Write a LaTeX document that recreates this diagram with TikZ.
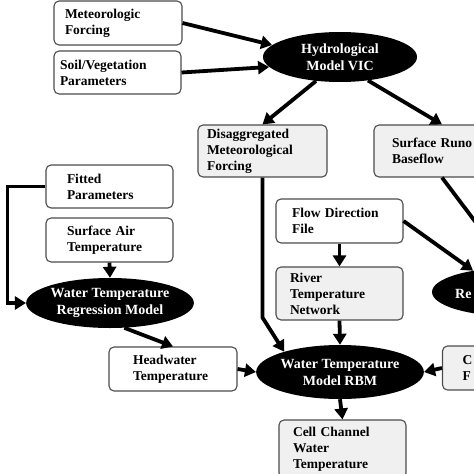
\documentclass[tikz,border=0pt]{standalone}
\usepackage{fontspec}
\setmainfont{Liberation Serif}
\usepackage{tikz}
\usetikzlibrary{shapes.geometric,arrows.meta}

\tikzset{
    inbox/.style={draw=black!70, line width=1.1pt, rounded corners=5pt, fill=white,
        font=\fontsize{13.5}{16}\selectfont\bfseries, align=left, inner ysep=2pt},
    outbox/.style={inbox, fill=black!6},
    model/.style={ellipse, fill=black, text=white, inner sep=0pt,
        font=\fontsize{14}{17}\selectfont\bfseries, align=center},
    flow/.style={line width=3.8pt, -{Triangle[length=11pt,width=13pt]}}
}

\begin{document}
\begin{tikzpicture}[x=1pt,y=-1pt]
    \useasboundingbox (0,0) rectangle (474,474);
    \clip (0,0) rectangle (474,474);

    % Input boxes
    \node[inbox, minimum width=128, minimum height=44, text width=106, inner xsep=11] (metforce) at (118,23) {Meteorologic\\Forcing};
    \node[inbox, minimum width=127, minimum height=43, text width=115, inner xsep=6] (soilveg) at (117.5,72.5) {Soil/Vegetation\\Parameters};
    \node[inbox, minimum width=127, minimum height=43, text width=85, inner xsep=21] (fitted) at (109.5,186.5) {Fitted\\Parameters};
    \node[inbox, minimum width=127, minimum height=44, text width=85, inner xsep=21] (airtemp) at (109.5,240) {Surface Air\\Temperature};
    \node[inbox, minimum width=128, minimum height=44, text width=80, inner xsep=24] (headwater) at (173,369) {Headwater\\Temperature};
    \node[inbox, minimum width=127, minimum height=44, text width=95, inner xsep=16] (flowdir) at (339.5,221) {Flow Direction\\File};

    % Output boxes
    \node[outbox, minimum width=129, minimum height=52, text width=111, inner xsep=9] (disagg) at (262.5,151) {Disaggregated\\Meteorological\\Forcing};
    \node[outbox, minimum width=136, minimum height=52, text width=100, inner xsep=18] (runoff) at (442,151) {Surface Runo\\Baseflow};
    \node[outbox, minimum width=127, minimum height=53, text width=99, inner xsep=14] (rivernet) at (339.5,293.5) {River\\Temperature\\Network};
    \node[outbox, minimum width=127, minimum height=58, text width=99, inner xsep=14] (cellchan) at (342.5,449) {Cell Channel\\Water\\Temperature};
    \node[outbox, minimum width=127, minimum height=44, text width=87, inner xsep=20] (cfbox) at (506,368) {C\\F};

    % Models
    \node[model, minimum width=154, minimum height=50] (vic) at (340,57) {Hydrological\\Model VIC};
    \node[model, minimum width=155, minimum height=50] (regress) at (110,303) {Water Temperature\\Regression Model};
    \node[model, minimum width=154, minimum height=54] (rbm) at (340,372) {Water Temperature\\Model RBM};
    \node[model, minimum width=156, minimum height=48] (routing) at (510,292) {};
    \node[text=white, font=\fontsize{14}{17}\selectfont\bfseries, anchor=west, inner sep=0pt] (routelabel) at (455,294) {Re};

    % Arrows
    \draw[flow] (metforce.east) -- (vic.170);
    \draw[flow] (soilveg.east) -- (vic.188);
    \draw[flow] (vic.225) -- (disagg.north);
    \draw[flow] (vic.320) -- (runoff.north);
    \draw[flow] (fitted.west) -- ++(-38,0) |- (regress.west);
    \draw[flow] (airtemp.south) -- (regress.north);
    \draw[flow] (regress.300) -- (headwater.north);
    \draw[flow] (flowdir.south) -- (rivernet.north);
    \draw[flow] (rivernet.south) -- (rbm.north);
    \draw[flow] (disagg.south) -- ++(0,140) -- (rbm.160);
    \draw[flow] (headwater.east) -- (rbm.west);
    \draw[flow] (cfbox.west) -- (rbm.east);
    \draw[flow] (rbm.south) -- (cellchan.north);
    \draw[flow] (flowdir.east) -- (routing.150);
    \draw[flow] (runoff.south) -- (routing.north);
\end{tikzpicture}
\end{document}
